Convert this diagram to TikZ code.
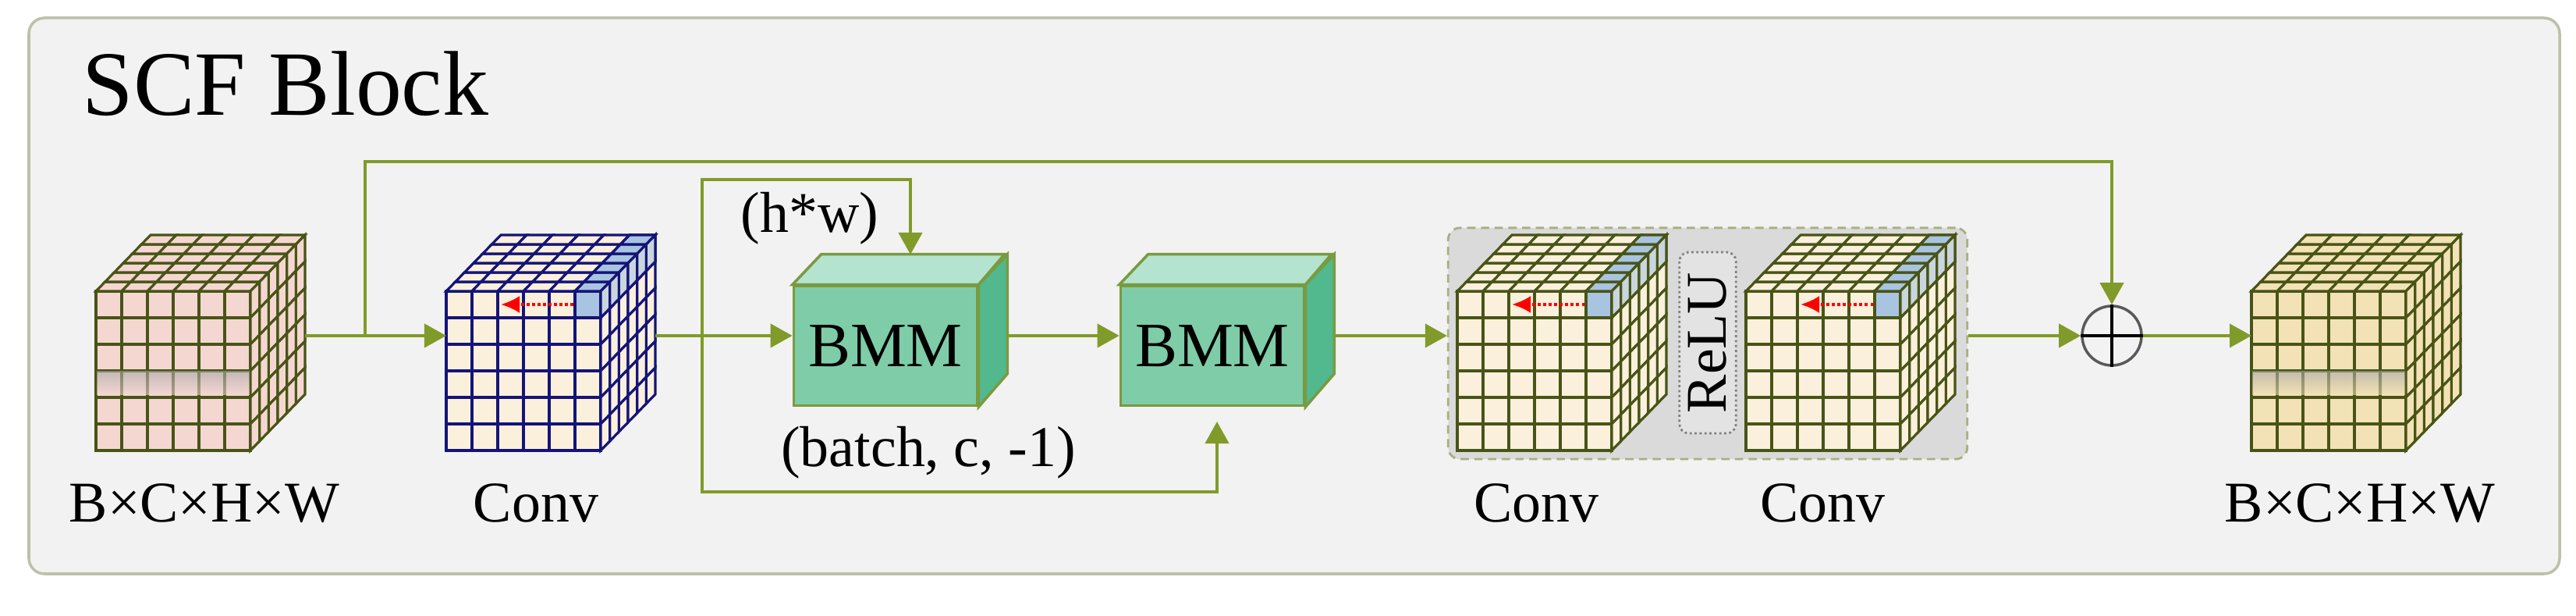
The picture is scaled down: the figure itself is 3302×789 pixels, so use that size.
\documentclass[tikz,border=0pt]{standalone}
\usepackage{fontspec}
\setmainfont{Liberation Serif}
\usepackage{tikz}
\usetikzlibrary{positioning,arrows.meta,calc}

\definecolor{arrowgreen}{RGB}{128,155,42}
\definecolor{cubeline}{RGB}{72,84,22}
\definecolor{navyline}{RGB}{20,20,120}
\definecolor{pinkcell}{RGB}{245,215,210}
\definecolor{creamcell}{RGB}{250,240,220}
\definecolor{sandcell}{RGB}{243,226,182}
\definecolor{hlblue}{RGB}{168,196,224}
\definecolor{bmmfront}{RGB}{126,205,168}
\definecolor{bmmtop}{RGB}{180,227,207}
\definecolor{bmmside}{RGB}{82,184,142}
\definecolor{bmmline}{RGB}{122,154,64}
\definecolor{panel}{RGB}{242,242,242}
\definecolor{panelline}{RGB}{190,192,168}
\definecolor{grpfill}{RGB}{218,218,218}
\definecolor{grpline}{RGB}{168,176,128}

\tikzset{
  flow/.style={line width=1.2pt, draw=arrowgreen, -{Triangle[length=0.28cm,width=0.3cm]}},
  wire/.style={line width=1.2pt, draw=arrowgreen},
  lbl/.style={font=\fontsize{21}{25}\selectfont, anchor=base},
  cell/.style={line width=0.9pt},
  bmm/.style={draw=bmmline, line width=1pt, fill=bmmfront, minimum width=2.35cm,
              minimum height=1.53cm, font=\fontsize{23}{27}\selectfont},
}

% feature cube: name, x of front face, fill, line colour, style (0 plain, 1 highlight, 2 band)
\newcommand{\featcube}[5]{%
  \begin{scope}[shift={(#2,373)}, cell, draw=#4, fill=#3]
    % front face
    \foreach \i in {0,...,5}{\foreach \j in {0,...,5}{
      \filldraw (\i*33,\j*34) rectangle ++(33,34);}}
    % top face
    \foreach \i in {0,...,5}{\foreach \k in {0,...,5}{
      \filldraw (\i*33+\k*11.67,-\k*12) -- ++(33,0) -- ++(11.67,-12) -- ++(-33,0) -- cycle;}}
    % right face
    \foreach \k in {0,...,5}{\foreach \j in {0,...,5}{
      \filldraw (198+\k*11.67,\j*34-\k*12) -- ++(11.67,-12) -- ++(0,34) -- ++(-11.67,12) -- cycle;}}
    \ifnum#5=1
      \filldraw[fill=hlblue] (165,0) rectangle ++(33,34);
      \foreach \k in {0,...,5}{
        \filldraw[fill=hlblue] (165+\k*11.67,-\k*12) -- ++(33,0) -- ++(11.67,-12) -- ++(-33,0) -- cycle;
        \filldraw[fill=hlblue!60!#3] (198+\k*11.67,-\k*12) -- ++(11.67,-12) -- ++(0,34) -- ++(-11.67,12) -- cycle;}
      \draw[red, densely dotted, line width=1pt, -{Latex[length=0.24cm,width=0.22cm]}] (163,17) -- (70,17);
    \fi
    \ifnum#5=2
      \shade[top color=black!35, bottom color=#3, opacity=0.6, draw=none] (1,103) rectangle (197,133);
    \fi
    \coordinate (#1-w) at (0,57);
    \coordinate (#1-e) at (268,57);
  \end{scope}
}

\begin{document}
\begin{tikzpicture}[x=0.01cm, y=-0.01cm]
    \useasboundingbox (0,0) rectangle (3302,789);

    % Panel
    \draw[panelline, line width=1pt, fill=panel, rounded corners=0.2cm] (37,23) rectangle (3281,735);
    \node[anchor=base west, font=\fontsize{33.5}{38}\selectfont, inner sep=0pt] (title) at (105,148) {SCF Block};

    % Conv + ReLU group
    \node[draw=grpline, densely dashed, line width=0.8pt, rounded corners=0.15cm, fill=grpfill,
          minimum width=6.65cm, minimum height=2.96cm] (grp) at (2189,440) {};
    \node[draw=gray, densely dotted, line width=0.8pt, rounded corners=0.12cm, fill=gray!22,
          minimum width=2.32cm, minimum height=0.71cm, rotate=90, font=\fontsize{21}{25}\selectfont] (relu) at (2189,439) {ReLU};

    % Cubes
    \featcube{inp}{123}{pinkcell}{cubeline}{2}
    \featcube{conv}{572}{creamcell}{navyline}{1}
    \featcube{convA}{1868}{creamcell}{cubeline}{1}
    \featcube{convB}{2238}{creamcell}{cubeline}{1}
    \featcube{out}{2886}{sandcell}{cubeline}{2}

    % BMM blocks
    \foreach \n/\x in {bmmA/1135, bmmB/1554} {
        \node[bmm] (\n) at (\x,443) {BMM};
        \filldraw[draw=bmmline, line width=1pt, fill=bmmtop] (\n.north west) -- ++(37,-39) -- ++(235,0) -- (\n.north east) -- cycle;
        \filldraw[draw=bmmline, line width=1pt, fill=bmmside] (\n.north east) -- ++(37,-39) -- ++(0,153) -- (\n.south east) -- cycle;
    }

    % Add
    \node[circle, draw=gray!70!black, line width=1pt, minimum size=0.76cm] (add) at (2707,430) {};
    \draw[line width=1.4pt] (add.west) -- (add.east) (add.north) -- (add.south);

    % Labels
    \node[lbl] (lin) at (262,669) {B×C×H×W};
    \node[lbl] (lconv) at (687,669) {Conv};
    \node[lbl] (lconvA) at (1969,669) {Conv};
    \node[lbl] (lconvB) at (2336,669) {Conv};
    \node[lbl] (lout) at (3025,669) {B×C×H×W};
    \node[font=\fontsize{21}{25}\selectfont] (lhw) at (1038,280) {(h*w)};
    \node[font=\fontsize{21}{25}\selectfont] (lbatch) at (1190,580) {(batch, c, -1)};

    % Connectors
    \coordinate (skip) at (468,430);
    \coordinate (top) at (468,207);
    \coordinate (split) at (900,430);
    \coordinate (high) at (900,230);
    \coordinate (low) at (900,630);
    \coordinate (bmmA-top) at (1167,326);
    \coordinate (bmmB-bot) at (1560,540);
    \draw[flow] (inp-e) -- (conv-w);
    \draw[flow] (skip) -- (top) -| (add.north);
    \draw[flow] (conv-e) -- (bmmA.west |- split);
    \draw[flow] (split) -- (high) -| (bmmA-top);
    \draw[flow] (split) -- (low) -| (bmmB-bot);
    \draw[flow] ($(bmmA.east |- split)+(37,0)$) -- (bmmB.west |- split);
    \draw[flow] ($(bmmB.east |- split)+(37,0)$) -- (grp.west |- split);
    \draw[flow] (grp.east |- split) -- (add.west);
    \draw[flow] (add.east) -- (out-w);
\end{tikzpicture}
\end{document}
